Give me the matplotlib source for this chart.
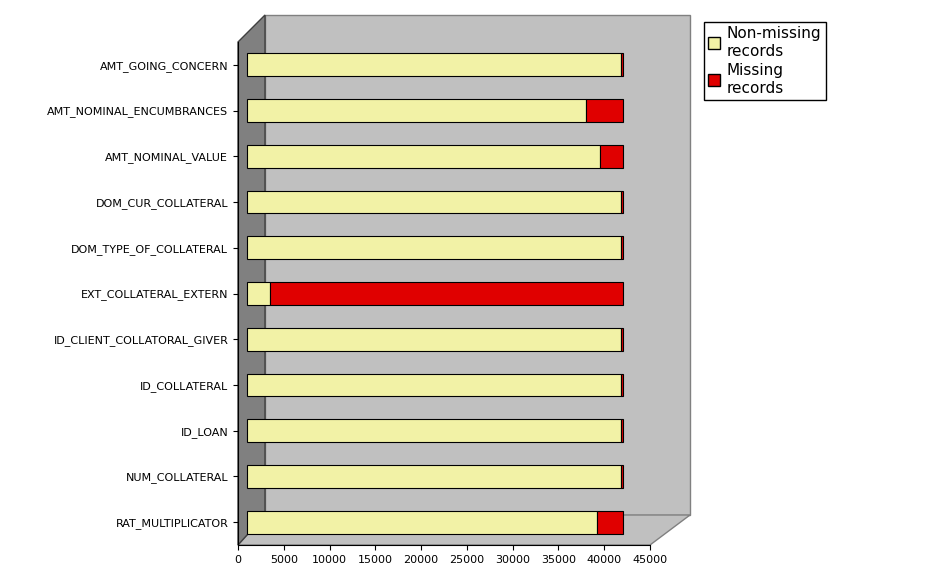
import matplotlib.pyplot as plt
from matplotlib.patches import Rectangle, Polygon

labels = ['AMT_GOING_CONCERN', 'AMT_NOMINAL_ENCUMBRANCES', 'AMT_NOMINAL_VALUE',
          'DOM_CUR_COLLATERAL', 'DOM_TYPE_OF_COLLATERAL', 'EXT_COLLATERAL_EXTERN',
          'ID_CLIENT_COLLATORAL_GIVER', 'ID_COLLATERAL', 'ID_LOAN',
          'NUM_COLLATERAL', 'RAT_MULTIPLICATOR']
non_missing = [40800, 37000, 38500, 40800, 40800, 2500, 40800, 40800, 40800, 40800, 38200]
missing = [300, 4100, 2600, 300, 300, 38600, 300, 300, 300, 300, 2900]

fig = plt.figure(figsize=(9.47, 5.8), dpi=100)
W, H = 947, 580
# back wall (3D look)
fig.patches.append(Rectangle((265 / W, 1 - 515 / H), (690 - 265) / W, 500 / H,
                             transform=fig.transFigure, facecolor='#c0c0c0',
                             edgecolor='#808080', zorder=-2))
fig.patches.append(Polygon([(238 / W, 1 - 545 / H), (265 / W, 1 - 515 / H),
                            (690 / W, 1 - 515 / H), (650 / W, 1 - 545 / H)],
                           closed=True, transform=fig.transFigure, facecolor='#c0c0c0',
                           edgecolor='#808080', zorder=-2))
fig.patches.append(Polygon([(238 / W, 1 - 545 / H), (265 / W, 1 - 515 / H),
                            (265 / W, 1 - 15 / H), (238 / W, 1 - 42 / H)],
                           closed=True, transform=fig.transFigure, facecolor='#808080',
                           edgecolor='#404040', zorder=-2))

ax = fig.add_axes([238 / W, 1 - 545 / H, 412 / W, 503 / H])
ax.set_zorder(1)
ax.patch.set_alpha(0)
y = list(range(len(labels)))
off = 1000
ax.barh(y, non_missing, left=off, height=0.5, color='#f2f2a6', edgecolor='black', lw=0.8)
lefts = [off + v for v in non_missing]
ax.barh(y, missing, left=lefts, height=0.5, color='#e00000', edgecolor='black', lw=0.8)
ax.set_yticks(y)
ax.set_yticklabels(labels, fontsize=8)
ax.set_ylim(len(labels) - 0.5, -0.5)
ax.set_xlim(0, 45000)
ax.set_xticks(range(0, 45001, 5000))
ax.tick_params(axis='x', labelsize=8)
for s in ['top', 'right']:
    ax.spines[s].set_visible(False)

h1 = Rectangle((0, 0), 1, 1, facecolor='#f2f2a6', edgecolor='black')
h2 = Rectangle((0, 0), 1, 1, facecolor='#e00000', edgecolor='black')
fig.legend([h1, h2], ['Non-missing\nrecords', 'Missing\nrecords'],
           loc='upper left', bbox_to_anchor=(696 / W, 1 - 14 / H),
           fontsize=11, fancybox=False, edgecolor='black', framealpha=1,
           handlelength=0.8, handleheight=0.8, handletextpad=0.4, borderpad=0.3,
           labelspacing=0.3)
fig.savefig('out.png', dpi=100)
